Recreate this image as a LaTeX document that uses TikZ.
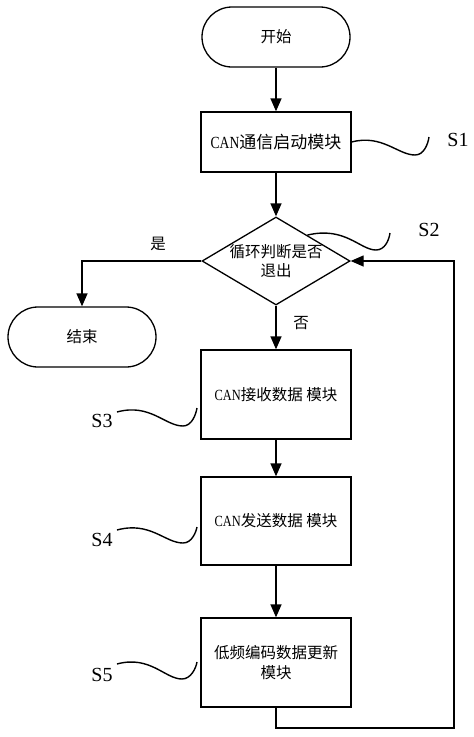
\documentclass[tikz,border=0pt]{standalone}
\usepackage{fontspec}
\setmainfont{Liberation Serif}
\newfontfamily\zhfont{Noto Sans CJK SC}
\newfontfamily\latcond[FakeStretch=0.8]{Liberation Serif}
\usetikzlibrary{shapes.geometric,arrows.meta,calc}
\newcommand{\zh}[1]{{\zhfont #1}}
\newcommand{\lc}[1]{{\latcond #1}}
\begin{document}
\begin{tikzpicture}[x=1pt,y=-1pt,line width=1.3pt,
  term/.style={draw,rounded corners=30pt,minimum width=148pt,minimum height=60pt,inner sep=0pt,font=\zhfont\fontsize{15.5}{19}\selectfont},
  proc/.style={draw,minimum width=150pt,inner sep=0pt,align=center,font=\fontsize{15.5}{20}\selectfont},
  decis/.style={draw,diamond,minimum width=148pt,minimum height=88pt,inner sep=0pt},
  arr/.style={-{Triangle[width=11pt,length=13pt]}},
  wave/.style={line width=1.4pt},
  slabel/.style={font=\fontsize{20}{24}\selectfont,inner sep=0pt},
  lbl/.style={font=\zhfont\fontsize{15.5}{19}\selectfont,inner sep=0pt}]
\useasboundingbox (0,0) rectangle (474,737);

\node[term] (start) at (276,37) {开始};
\node[proc,minimum height=60pt,font=\fontsize{17}{20}\selectfont] (s1) at (276,142) {\lc{CAN}\zh{通信启动模块}};
\node[decis] (dec) at (276,261) {};
\node[align=center,inner sep=0pt,font=\zhfont\fontsize{15.5}{19}\selectfont] (dectext) at (276,261.5) {循环判断是否\\退出};
\node[term] (end) at (82,337) {结束};
\node[proc,minimum height=89pt] (s3) at (276,394.5) {\lc{CAN}\zh{接收数据 模块}};
\node[proc,minimum height=88pt] (s4) at (276,521) {\lc{CAN}\zh{发送数据 模块}};
\node[proc,minimum height=89pt,font=\zhfont\fontsize{15.5}{20}\selectfont] (s5) at (276,662.5) {低频编码数据更新\\模块};

\coordinate (yesc) at (82,261);
\coordinate (fb1) at (276,728);
\coordinate (fb2) at (454,728);
\coordinate (fb3) at (454,261);

\draw[arr] (start.south) -- (s1.north);
\draw[arr] (s1.south) -- (dec.north);
\draw[arr] (dec.west) -- (yesc) -- (end.north);
\draw[arr] (dec.south) -- (s3.north);
\draw[arr] (s3.south) -- (s4.north);
\draw[arr] (s4.south) -- (s5.north);
\draw[arr] (s5.south) -- (fb1) -- (fb2) -- (fb3) -- (dec.east);

\node[lbl] (yes) at (158,244) {是};
\node[lbl] (no) at (301,323) {否};

% wavy leaders
\draw[wave] (s1.east) .. controls (382,134) and (398,155) .. (415,155) .. controls (424,155) and (428,144) .. (429,137);
\coordinate (w2) at ($(dec.north)!0.42!(dec.east)$);
\draw[wave] (w2) .. controls (345,226) and (360,250) .. (376,250) .. controls (385,250) and (389,240) .. (390,233);
\draw[wave] (117,412) .. controls (150,403) and (165,426) .. (183,426) .. controls (192,426) and (196,414) .. (197,408);
\draw[wave] (117,530) .. controls (150,521) and (165,543) .. (183,543) .. controls (192,543) and (196,532) .. (197,527);
\draw[wave] (117,664) .. controls (150,655) and (165,679) .. (182,679) .. controls (191,679) and (196,668) .. (197,662);

\node[slabel] (l1) at (458,140) {S1};
\node[slabel] (l2) at (429,230) {S2};
\node[slabel] (l3) at (102,421) {S3};
\node[slabel] (l4) at (102,540) {S4};
\node[slabel] (l5) at (102,675) {S5};
\end{tikzpicture}
\end{document}
